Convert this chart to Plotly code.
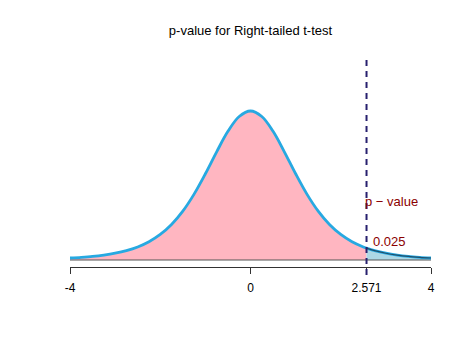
import plotly.graph_objects as go

# t-values (grid) and density values (t distribution, df = 5)
t_left = [-4.0, -3.75, -3.5, -3.25, -3.0, -2.75, -2.5, -2.25, -2.0, -1.75, -1.5, -1.25,
          -1.0, -0.75, -0.5, -0.25, 0.0, 0.25, 0.5, 0.75, 1.0, 1.25, 1.5, 1.75, 2.0,
          2.25, 2.5, 2.571]
d_left = [0.0051, 0.0069, 0.0092, 0.0126, 0.0173, 0.0239, 0.0333, 0.0466, 0.0651, 0.0905,
          0.1245, 0.1679, 0.2197, 0.2757, 0.3279, 0.3657, 0.3796, 0.3657, 0.3279, 0.2757,
          0.2197, 0.1679, 0.1245, 0.0905, 0.0651, 0.0466, 0.0333, 0.0303]
t_right = [2.571, 2.75, 3.0, 3.25, 3.5, 3.75, 4.0]
d_right = [0.0303, 0.0239, 0.0173, 0.0126, 0.0092, 0.0069, 0.0051]

critical = 2.571
tick_vals = [-4, 0, 2.571, 4]
tick_text = ["-4", "0", "2.571", "4"]
p_label = "p \u2212 value"
alpha_label = "0.025"
title_text = "p-value for Right-tailed t-test"

FONT = "Liberation Sans, Arial, sans-serif"

fig = go.Figure()
# pink area
fig.add_trace(go.Scatter(x=t_left, y=d_left, mode="lines", fill="tozeroy",
                         fillcolor="#FFB6C1", line=dict(color="rgba(0,0,0,0)", width=0, shape="spline"),
                         hoverinfo="skip", showlegend=False))
# light blue area
fig.add_trace(go.Scatter(x=t_right, y=d_right, mode="lines", fill="tozeroy",
                         fillcolor="#ADD8E6", line=dict(color="rgba(0,0,0,0)", width=0, shape="spline"),
                         hoverinfo="skip", showlegend=False))
# baseline
fig.add_trace(go.Scatter(x=[t_left[0], t_right[-1]], y=[0, 0], mode="lines",
                         line=dict(color="#555555", width=1.2), hoverinfo="skip", showlegend=False))
# blue curve
fig.add_trace(go.Scatter(x=t_left + t_right[1:], y=d_left + d_right[1:], mode="lines",
                         line=dict(color="#27A9E1", width=2.8, shape="spline"),
                         hoverinfo="skip", showlegend=False))
# dark border on the tail
fig.add_trace(go.Scatter(x=t_right, y=d_right, mode="lines",
                         line=dict(color="rgba(30,50,70,0.75)", width=1.2, shape="spline"),
                         hoverinfo="skip", showlegend=False))

# dashed critical line
fig.add_shape(type="line", xref="x", yref="paper", x0=critical, x1=critical,
              y0=-0.039, y1=1.0, line=dict(color="#27206E", width=2, dash="6px,5px"))

fig.add_annotation(x=critical - 0.07, y=0.148, xref="x", yref="y", text=p_label, showarrow=False,
                   xanchor="left", yanchor="middle",
                   font=dict(family=FONT, size=13, color="#8B0000"))
fig.add_annotation(x=critical + 0.11, y=0.0484, xref="x", yref="y", text=alpha_label,
                   showarrow=False, xanchor="left", yanchor="middle",
                   font=dict(family=FONT, size=13, color="#8B0000"))

fig.update_layout(
    width=474, height=338,
    margin=dict(l=70, r=43, t=60, b=71),
    paper_bgcolor="white", plot_bgcolor="white",
    title=dict(text=title_text, x=0.5, xref="paper", xanchor="center",
               y=1 - 30 / 338, yref="container", yanchor="middle",
               font=dict(family=FONT, size=13, color="black")),
    xaxis=dict(range=[-4, 4], showgrid=False, zeroline=False, showline=True,
               linecolor="#333333", linewidth=1, ticks="outside", ticklen=6,
               tickcolor="#333333", tickvals=tick_vals, ticktext=tick_text,
               ticklabelstandoff=4,
               tickfont=dict(family=FONT, size=12, color="black")),
    yaxis=dict(range=[-0.0178, 0.5096], visible=False, showgrid=False, zeroline=False),
    showlegend=False,
)

fig.write_html("out.html")
